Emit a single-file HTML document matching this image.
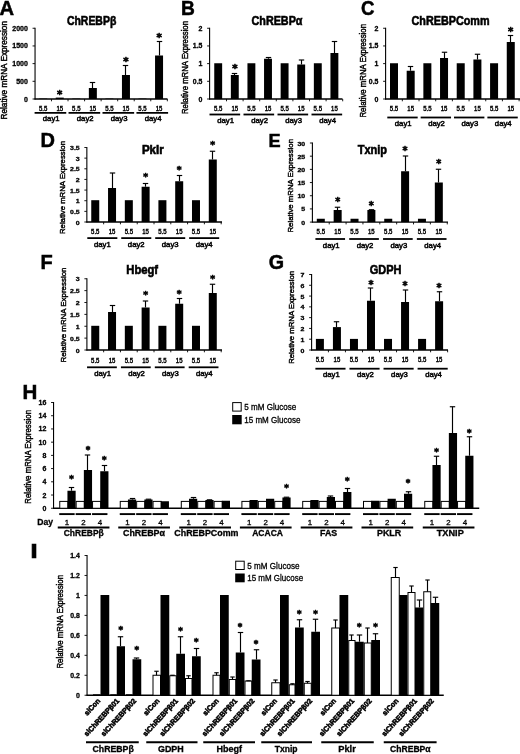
<!DOCTYPE html>
<html><head><meta charset="utf-8"><title>Figure</title>
<style>html,body{margin:0;padding:0;background:#fff}svg{display:block;filter:blur(0.35px)}text{font-family:'Liberation Sans',Arial,Helvetica,sans-serif;fill:#000;stroke:#000;stroke-width:0.3px}.lt{stroke-width:0.5px}.dl{stroke-width:0.5px}.rl{stroke-width:0.55px}.yl{stroke-width:0.42px}.xl{stroke-width:0.42px}.tt{stroke-width:0.6px}.st{font-family:'DejaVu Sans',sans-serif;stroke-width:0.65px;stroke-linejoin:round}</style>
</head><body>
<svg width="520" height="754" viewBox="0 0 520 754">
<rect width="520" height="754" fill="#fff"/>
<g id="panelA">
<text transform="translate(-0.40 14.90) scale(1.008 1.022)" font-size="20" font-weight="bold" class="lt">A</text>
<text x="91.60" y="25.00" font-size="13.2" font-weight="bold" text-anchor="middle" textLength="49.40" lengthAdjust="spacingAndGlyphs" class="tt">ChREBPβ</text>
<line x1="35.05" y1="27.75" x2="35.05" y2="99.50" stroke="#000" stroke-width="1.1"/>
<line x1="34.55" y1="99.00" x2="167.50" y2="99.00" stroke="#000" stroke-width="1.3"/>
<line x1="32.55" y1="99.00" x2="35.05" y2="99.00" stroke="#000" stroke-width="0.9"/>
<text x="23.95" y="101.55" font-size="7" font-weight="bold" textLength="3.90" lengthAdjust="spacingAndGlyphs">0</text>
<line x1="32.55" y1="81.31" x2="35.05" y2="81.31" stroke="#000" stroke-width="0.9"/>
<text x="16.15" y="83.86" font-size="7" font-weight="bold" textLength="11.70" lengthAdjust="spacingAndGlyphs">500</text>
<line x1="32.55" y1="63.62" x2="35.05" y2="63.62" stroke="#000" stroke-width="0.9"/>
<text x="12.25" y="66.17" font-size="7" font-weight="bold" textLength="15.60" lengthAdjust="spacingAndGlyphs">1000</text>
<line x1="32.55" y1="45.94" x2="35.05" y2="45.94" stroke="#000" stroke-width="0.9"/>
<text x="12.25" y="48.49" font-size="7" font-weight="bold" textLength="15.60" lengthAdjust="spacingAndGlyphs">1500</text>
<line x1="32.55" y1="28.25" x2="35.05" y2="28.25" stroke="#000" stroke-width="0.9"/>
<text x="12.25" y="30.80" font-size="7" font-weight="bold" textLength="15.60" lengthAdjust="spacingAndGlyphs">2000</text>
<line x1="51.48" y1="99.00" x2="51.48" y2="101.30" stroke="#000" stroke-width="0.9"/>
<line x1="68.03" y1="99.00" x2="68.03" y2="101.30" stroke="#000" stroke-width="0.9"/>
<line x1="84.58" y1="99.00" x2="84.58" y2="101.30" stroke="#000" stroke-width="0.9"/>
<line x1="101.12" y1="99.00" x2="101.12" y2="101.30" stroke="#000" stroke-width="0.9"/>
<line x1="117.68" y1="99.00" x2="117.68" y2="101.30" stroke="#000" stroke-width="0.9"/>
<line x1="134.23" y1="99.00" x2="134.23" y2="101.30" stroke="#000" stroke-width="0.9"/>
<line x1="150.78" y1="99.00" x2="150.78" y2="101.30" stroke="#000" stroke-width="0.9"/>
<line x1="167.33" y1="99.00" x2="167.33" y2="101.30" stroke="#000" stroke-width="0.9"/>
<rect x="39.20" y="98.60" width="8.00" height="0.40" fill="#000"/>
<text x="43.20" y="110.80" font-size="6.7" text-anchor="middle" textLength="8.40" lengthAdjust="spacingAndGlyphs" class="xl">5.5</text>
<rect x="55.75" y="97.60" width="8.00" height="1.40" fill="#000"/>
<text x="59.75" y="97.75" font-size="10.2" font-weight="bold" text-anchor="middle" class="st">*</text>
<text x="59.75" y="110.80" font-size="6.7" text-anchor="middle" textLength="6.70" lengthAdjust="spacingAndGlyphs" class="xl">15</text>
<rect x="72.30" y="98.60" width="8.00" height="0.40" fill="#000"/>
<text x="76.30" y="110.80" font-size="6.7" text-anchor="middle" textLength="8.40" lengthAdjust="spacingAndGlyphs" class="xl">5.5</text>
<rect x="88.85" y="88.00" width="8.00" height="11.00" fill="#000"/>
<line x1="92.50" y1="88.00" x2="92.50" y2="82.50" stroke="#000" stroke-width="1.15"/>
<line x1="89.80" y1="82.50" x2="95.20" y2="82.50" stroke="#000" stroke-width="1.15"/>
<text x="92.85" y="110.80" font-size="6.7" text-anchor="middle" textLength="6.70" lengthAdjust="spacingAndGlyphs" class="xl">15</text>
<rect x="105.40" y="98.60" width="8.00" height="0.40" fill="#000"/>
<text x="109.40" y="110.80" font-size="6.7" text-anchor="middle" textLength="8.40" lengthAdjust="spacingAndGlyphs" class="xl">5.5</text>
<rect x="121.95" y="75.00" width="8.00" height="24.00" fill="#000"/>
<line x1="125.50" y1="75.00" x2="125.50" y2="65.50" stroke="#000" stroke-width="1.15"/>
<line x1="122.80" y1="65.50" x2="128.20" y2="65.50" stroke="#000" stroke-width="1.15"/>
<text x="125.95" y="64.75" font-size="10.2" font-weight="bold" text-anchor="middle" class="st">*</text>
<text x="125.95" y="110.80" font-size="6.7" text-anchor="middle" textLength="6.70" lengthAdjust="spacingAndGlyphs" class="xl">15</text>
<rect x="138.50" y="98.60" width="8.00" height="0.40" fill="#000"/>
<text x="142.50" y="110.80" font-size="6.7" text-anchor="middle" textLength="8.40" lengthAdjust="spacingAndGlyphs" class="xl">5.5</text>
<rect x="155.05" y="55.50" width="8.00" height="43.50" fill="#000"/>
<line x1="159.50" y1="55.50" x2="159.50" y2="41.50" stroke="#000" stroke-width="1.15"/>
<line x1="156.80" y1="41.50" x2="162.20" y2="41.50" stroke="#000" stroke-width="1.15"/>
<text x="159.05" y="40.75" font-size="10.2" font-weight="bold" text-anchor="middle" class="st">*</text>
<text x="159.05" y="110.80" font-size="6.7" text-anchor="middle" textLength="6.70" lengthAdjust="spacingAndGlyphs" class="xl">15</text>
<line x1="34.60" y1="112.80" x2="66.25" y2="112.80" stroke="#000" stroke-width="1.8"/>
<text x="51.22" y="120.80" font-size="7.9" text-anchor="middle" textLength="16.80" lengthAdjust="spacingAndGlyphs" class="dl">day1</text>
<line x1="68.55" y1="112.80" x2="100.20" y2="112.80" stroke="#000" stroke-width="1.8"/>
<text x="85.17" y="120.80" font-size="7.9" text-anchor="middle" textLength="16.80" lengthAdjust="spacingAndGlyphs" class="dl">day2</text>
<line x1="102.50" y1="112.80" x2="134.15" y2="112.80" stroke="#000" stroke-width="1.8"/>
<text x="119.12" y="120.80" font-size="7.9" text-anchor="middle" textLength="16.80" lengthAdjust="spacingAndGlyphs" class="dl">day3</text>
<line x1="136.45" y1="112.80" x2="168.10" y2="112.80" stroke="#000" stroke-width="1.8"/>
<text x="153.08" y="120.80" font-size="7.9" text-anchor="middle" textLength="16.80" lengthAdjust="spacingAndGlyphs" class="dl">day4</text>
<text x="4.20" y="70.25" font-size="8.5" text-anchor="middle" textLength="98.50" lengthAdjust="spacingAndGlyphs" transform="rotate(-90 4.20 70.25)" dy="2.9" class="yl">Relative mRNA Expression</text>
</g>
<g id="panelB">
<text transform="translate(180.96 14.70) scale(0.959 1.007)" font-size="20" font-weight="bold" class="lt">B</text>
<text x="277.00" y="25.00" font-size="13.2" font-weight="bold" text-anchor="middle" textLength="51.00" lengthAdjust="spacingAndGlyphs" class="tt">ChREBPα</text>
<line x1="209.60" y1="27.75" x2="209.60" y2="99.50" stroke="#000" stroke-width="1.1"/>
<line x1="209.10" y1="99.00" x2="342.50" y2="99.00" stroke="#000" stroke-width="1.3"/>
<line x1="207.10" y1="99.00" x2="209.60" y2="99.00" stroke="#000" stroke-width="0.9"/>
<text x="198.50" y="101.55" font-size="7" font-weight="bold" textLength="3.90" lengthAdjust="spacingAndGlyphs">0</text>
<line x1="207.10" y1="81.31" x2="209.60" y2="81.31" stroke="#000" stroke-width="0.9"/>
<text x="192.80" y="83.86" font-size="7" font-weight="bold" textLength="9.60" lengthAdjust="spacingAndGlyphs">0.5</text>
<line x1="207.10" y1="63.62" x2="209.60" y2="63.62" stroke="#000" stroke-width="0.9"/>
<text x="198.50" y="66.17" font-size="7" font-weight="bold" textLength="3.90" lengthAdjust="spacingAndGlyphs">1</text>
<line x1="207.10" y1="45.94" x2="209.60" y2="45.94" stroke="#000" stroke-width="0.9"/>
<text x="192.80" y="48.49" font-size="7" font-weight="bold" textLength="9.60" lengthAdjust="spacingAndGlyphs">1.5</text>
<line x1="207.10" y1="28.25" x2="209.60" y2="28.25" stroke="#000" stroke-width="0.9"/>
<text x="198.50" y="30.80" font-size="7" font-weight="bold" textLength="3.90" lengthAdjust="spacingAndGlyphs">2</text>
<line x1="226.50" y1="99.00" x2="226.50" y2="101.30" stroke="#000" stroke-width="0.9"/>
<line x1="243.10" y1="99.00" x2="243.10" y2="101.30" stroke="#000" stroke-width="0.9"/>
<line x1="259.70" y1="99.00" x2="259.70" y2="101.30" stroke="#000" stroke-width="0.9"/>
<line x1="276.30" y1="99.00" x2="276.30" y2="101.30" stroke="#000" stroke-width="0.9"/>
<line x1="292.90" y1="99.00" x2="292.90" y2="101.30" stroke="#000" stroke-width="0.9"/>
<line x1="309.50" y1="99.00" x2="309.50" y2="101.30" stroke="#000" stroke-width="0.9"/>
<line x1="326.10" y1="99.00" x2="326.10" y2="101.30" stroke="#000" stroke-width="0.9"/>
<line x1="342.70" y1="99.00" x2="342.70" y2="101.30" stroke="#000" stroke-width="0.9"/>
<rect x="214.25" y="63.25" width="7.90" height="35.75" fill="#000"/>
<text x="218.20" y="110.90" font-size="6.7" text-anchor="middle" textLength="8.40" lengthAdjust="spacingAndGlyphs" class="xl">5.5</text>
<rect x="230.85" y="75.00" width="7.90" height="24.00" fill="#000"/>
<line x1="234.50" y1="75.00" x2="234.50" y2="73.50" stroke="#000" stroke-width="1.15"/>
<line x1="231.80" y1="73.50" x2="237.20" y2="73.50" stroke="#000" stroke-width="1.15"/>
<text x="234.80" y="71.55" font-size="10.2" font-weight="bold" text-anchor="middle" class="st">*</text>
<text x="234.80" y="110.90" font-size="6.7" text-anchor="middle" textLength="6.70" lengthAdjust="spacingAndGlyphs" class="xl">15</text>
<rect x="247.45" y="63.25" width="7.90" height="35.75" fill="#000"/>
<text x="251.40" y="110.90" font-size="6.7" text-anchor="middle" textLength="8.40" lengthAdjust="spacingAndGlyphs" class="xl">5.5</text>
<rect x="264.05" y="58.75" width="7.90" height="40.25" fill="#000"/>
<line x1="268.50" y1="58.75" x2="268.50" y2="57.50" stroke="#000" stroke-width="1.15"/>
<line x1="265.80" y1="57.50" x2="271.20" y2="57.50" stroke="#000" stroke-width="1.15"/>
<text x="268.00" y="110.90" font-size="6.7" text-anchor="middle" textLength="6.70" lengthAdjust="spacingAndGlyphs" class="xl">15</text>
<rect x="280.65" y="63.25" width="7.90" height="35.75" fill="#000"/>
<text x="284.60" y="110.90" font-size="6.7" text-anchor="middle" textLength="8.40" lengthAdjust="spacingAndGlyphs" class="xl">5.5</text>
<rect x="297.25" y="64.50" width="7.90" height="34.50" fill="#000"/>
<line x1="301.50" y1="64.50" x2="301.50" y2="60.00" stroke="#000" stroke-width="1.15"/>
<line x1="298.80" y1="60.00" x2="304.20" y2="60.00" stroke="#000" stroke-width="1.15"/>
<text x="301.20" y="110.90" font-size="6.7" text-anchor="middle" textLength="6.70" lengthAdjust="spacingAndGlyphs" class="xl">15</text>
<rect x="313.85" y="63.25" width="7.90" height="35.75" fill="#000"/>
<text x="317.80" y="110.90" font-size="6.7" text-anchor="middle" textLength="8.40" lengthAdjust="spacingAndGlyphs" class="xl">5.5</text>
<rect x="330.45" y="53.00" width="7.90" height="46.00" fill="#000"/>
<line x1="334.50" y1="53.00" x2="334.50" y2="41.50" stroke="#000" stroke-width="1.15"/>
<line x1="331.80" y1="41.50" x2="337.20" y2="41.50" stroke="#000" stroke-width="1.15"/>
<text x="334.40" y="110.90" font-size="6.7" text-anchor="middle" textLength="6.70" lengthAdjust="spacingAndGlyphs" class="xl">15</text>
<line x1="209.50" y1="114.50" x2="240.15" y2="114.50" stroke="#000" stroke-width="1.8"/>
<text x="225.62" y="123.40" font-size="7.9" text-anchor="middle" textLength="16.80" lengthAdjust="spacingAndGlyphs" class="dl">day1</text>
<line x1="243.50" y1="114.50" x2="274.15" y2="114.50" stroke="#000" stroke-width="1.8"/>
<text x="259.62" y="123.40" font-size="7.9" text-anchor="middle" textLength="16.80" lengthAdjust="spacingAndGlyphs" class="dl">day2</text>
<line x1="277.50" y1="114.50" x2="308.15" y2="114.50" stroke="#000" stroke-width="1.8"/>
<text x="293.62" y="123.40" font-size="7.9" text-anchor="middle" textLength="16.80" lengthAdjust="spacingAndGlyphs" class="dl">day3</text>
<line x1="311.50" y1="114.50" x2="342.15" y2="114.50" stroke="#000" stroke-width="1.8"/>
<text x="327.62" y="123.40" font-size="7.9" text-anchor="middle" textLength="16.80" lengthAdjust="spacingAndGlyphs" class="dl">day4</text>
<text x="185.30" y="67.50" font-size="8.5" text-anchor="middle" textLength="93.00" lengthAdjust="spacingAndGlyphs" transform="rotate(-90 185.30 67.50)" dy="2.9" class="yl">Relative mRNA Expression</text>
</g>
<g id="panelC">
<text transform="translate(360.96 14.51) scale(0.931 0.972)" font-size="20" font-weight="bold" class="lt">C</text>
<text x="450.50" y="25.00" font-size="13.2" font-weight="bold" text-anchor="middle" textLength="78.00" lengthAdjust="spacingAndGlyphs" class="tt">ChREBPComm</text>
<line x1="385.60" y1="27.75" x2="385.60" y2="99.50" stroke="#000" stroke-width="1.1"/>
<line x1="385.10" y1="99.00" x2="521.00" y2="99.00" stroke="#000" stroke-width="1.3"/>
<line x1="383.10" y1="99.00" x2="385.60" y2="99.00" stroke="#000" stroke-width="0.9"/>
<text x="374.50" y="101.55" font-size="7" font-weight="bold" textLength="3.90" lengthAdjust="spacingAndGlyphs">0</text>
<line x1="383.10" y1="81.31" x2="385.60" y2="81.31" stroke="#000" stroke-width="0.9"/>
<text x="368.80" y="83.86" font-size="7" font-weight="bold" textLength="9.60" lengthAdjust="spacingAndGlyphs">0.5</text>
<line x1="383.10" y1="63.62" x2="385.60" y2="63.62" stroke="#000" stroke-width="0.9"/>
<text x="374.50" y="66.17" font-size="7" font-weight="bold" textLength="3.90" lengthAdjust="spacingAndGlyphs">1</text>
<line x1="383.10" y1="45.94" x2="385.60" y2="45.94" stroke="#000" stroke-width="0.9"/>
<text x="368.80" y="48.49" font-size="7" font-weight="bold" textLength="9.60" lengthAdjust="spacingAndGlyphs">1.5</text>
<line x1="383.10" y1="28.25" x2="385.60" y2="28.25" stroke="#000" stroke-width="0.9"/>
<text x="374.50" y="30.80" font-size="7" font-weight="bold" textLength="3.90" lengthAdjust="spacingAndGlyphs">2</text>
<line x1="402.34" y1="99.00" x2="402.34" y2="101.30" stroke="#000" stroke-width="0.9"/>
<line x1="419.02" y1="99.00" x2="419.02" y2="101.30" stroke="#000" stroke-width="0.9"/>
<line x1="435.70" y1="99.00" x2="435.70" y2="101.30" stroke="#000" stroke-width="0.9"/>
<line x1="452.38" y1="99.00" x2="452.38" y2="101.30" stroke="#000" stroke-width="0.9"/>
<line x1="469.06" y1="99.00" x2="469.06" y2="101.30" stroke="#000" stroke-width="0.9"/>
<line x1="485.74" y1="99.00" x2="485.74" y2="101.30" stroke="#000" stroke-width="0.9"/>
<line x1="502.42" y1="99.00" x2="502.42" y2="101.30" stroke="#000" stroke-width="0.9"/>
<line x1="519.10" y1="99.00" x2="519.10" y2="101.30" stroke="#000" stroke-width="0.9"/>
<rect x="390.00" y="63.25" width="8.00" height="35.75" fill="#000"/>
<text x="394.00" y="111.00" font-size="6.7" text-anchor="middle" textLength="8.40" lengthAdjust="spacingAndGlyphs" class="xl">5.5</text>
<rect x="406.68" y="70.75" width="8.00" height="28.25" fill="#000"/>
<line x1="410.50" y1="70.75" x2="410.50" y2="66.50" stroke="#000" stroke-width="1.15"/>
<line x1="407.80" y1="66.50" x2="413.20" y2="66.50" stroke="#000" stroke-width="1.15"/>
<text x="410.68" y="111.00" font-size="6.7" text-anchor="middle" textLength="6.70" lengthAdjust="spacingAndGlyphs" class="xl">15</text>
<rect x="423.36" y="63.25" width="8.00" height="35.75" fill="#000"/>
<text x="427.36" y="111.00" font-size="6.7" text-anchor="middle" textLength="8.40" lengthAdjust="spacingAndGlyphs" class="xl">5.5</text>
<rect x="440.04" y="58.00" width="8.00" height="41.00" fill="#000"/>
<line x1="444.50" y1="58.00" x2="444.50" y2="52.25" stroke="#000" stroke-width="1.15"/>
<line x1="441.80" y1="52.25" x2="447.20" y2="52.25" stroke="#000" stroke-width="1.15"/>
<text x="444.04" y="111.00" font-size="6.7" text-anchor="middle" textLength="6.70" lengthAdjust="spacingAndGlyphs" class="xl">15</text>
<rect x="456.72" y="63.25" width="8.00" height="35.75" fill="#000"/>
<text x="460.72" y="111.00" font-size="6.7" text-anchor="middle" textLength="8.40" lengthAdjust="spacingAndGlyphs" class="xl">5.5</text>
<rect x="473.40" y="59.50" width="8.00" height="39.50" fill="#000"/>
<line x1="477.50" y1="59.50" x2="477.50" y2="54.25" stroke="#000" stroke-width="1.15"/>
<line x1="474.80" y1="54.25" x2="480.20" y2="54.25" stroke="#000" stroke-width="1.15"/>
<text x="477.40" y="111.00" font-size="6.7" text-anchor="middle" textLength="6.70" lengthAdjust="spacingAndGlyphs" class="xl">15</text>
<rect x="490.08" y="63.25" width="8.00" height="35.75" fill="#000"/>
<text x="494.08" y="111.00" font-size="6.7" text-anchor="middle" textLength="8.40" lengthAdjust="spacingAndGlyphs" class="xl">5.5</text>
<rect x="506.76" y="42.00" width="8.00" height="57.00" fill="#000"/>
<line x1="510.50" y1="42.00" x2="510.50" y2="35.50" stroke="#000" stroke-width="1.15"/>
<line x1="507.80" y1="35.50" x2="513.20" y2="35.50" stroke="#000" stroke-width="1.15"/>
<text x="510.76" y="35.25" font-size="10.2" font-weight="bold" text-anchor="middle" class="st">*</text>
<text x="510.76" y="111.00" font-size="6.7" text-anchor="middle" textLength="6.70" lengthAdjust="spacingAndGlyphs" class="xl">15</text>
<line x1="387.30" y1="117.50" x2="417.68" y2="117.50" stroke="#000" stroke-width="1.8"/>
<text x="403.19" y="126.10" font-size="7.9" text-anchor="middle" textLength="16.80" lengthAdjust="spacingAndGlyphs" class="dl">day1</text>
<line x1="420.66" y1="117.50" x2="451.04" y2="117.50" stroke="#000" stroke-width="1.8"/>
<text x="436.55" y="126.10" font-size="7.9" text-anchor="middle" textLength="16.80" lengthAdjust="spacingAndGlyphs" class="dl">day2</text>
<line x1="454.02" y1="117.50" x2="484.40" y2="117.50" stroke="#000" stroke-width="1.8"/>
<text x="469.91" y="126.10" font-size="7.9" text-anchor="middle" textLength="16.80" lengthAdjust="spacingAndGlyphs" class="dl">day3</text>
<line x1="487.38" y1="117.50" x2="517.76" y2="117.50" stroke="#000" stroke-width="1.8"/>
<text x="503.27" y="126.10" font-size="7.9" text-anchor="middle" textLength="16.80" lengthAdjust="spacingAndGlyphs" class="dl">day4</text>
<text x="363.50" y="70.75" font-size="8.5" text-anchor="middle" textLength="93.50" lengthAdjust="spacingAndGlyphs" transform="rotate(-90 363.50 70.75)" dy="2.9" class="yl">Relative mRNA Expression</text>
</g>
<g id="panelD">
<text transform="translate(40.60 146.90) scale(1.000 0.978)" font-size="20" font-weight="bold" class="lt">D</text>
<text x="152.80" y="154.20" font-size="12.2" font-weight="bold" text-anchor="middle" textLength="21.80" lengthAdjust="spacingAndGlyphs" class="tt">Pklr</text>
<line x1="86.85" y1="147.00" x2="86.85" y2="222.50" stroke="#000" stroke-width="1.1"/>
<line x1="86.35" y1="222.00" x2="222.00" y2="222.00" stroke="#000" stroke-width="1.3"/>
<line x1="84.35" y1="222.00" x2="86.85" y2="222.00" stroke="#000" stroke-width="0.9"/>
<text x="75.75" y="224.55" font-size="6.2" font-weight="bold" textLength="3.90" lengthAdjust="spacingAndGlyphs">0</text>
<line x1="84.35" y1="211.36" x2="86.85" y2="211.36" stroke="#000" stroke-width="0.9"/>
<text x="70.05" y="213.91" font-size="6.2" font-weight="bold" textLength="9.60" lengthAdjust="spacingAndGlyphs">0.5</text>
<line x1="84.35" y1="200.71" x2="86.85" y2="200.71" stroke="#000" stroke-width="0.9"/>
<text x="75.75" y="203.26" font-size="6.2" font-weight="bold" textLength="3.90" lengthAdjust="spacingAndGlyphs">1</text>
<line x1="84.35" y1="190.07" x2="86.85" y2="190.07" stroke="#000" stroke-width="0.9"/>
<text x="70.05" y="192.62" font-size="6.2" font-weight="bold" textLength="9.60" lengthAdjust="spacingAndGlyphs">1.5</text>
<line x1="84.35" y1="179.43" x2="86.85" y2="179.43" stroke="#000" stroke-width="0.9"/>
<text x="75.75" y="181.98" font-size="6.2" font-weight="bold" textLength="3.90" lengthAdjust="spacingAndGlyphs">2</text>
<line x1="84.35" y1="168.79" x2="86.85" y2="168.79" stroke="#000" stroke-width="0.9"/>
<text x="70.05" y="171.34" font-size="6.2" font-weight="bold" textLength="9.60" lengthAdjust="spacingAndGlyphs">2.5</text>
<line x1="84.35" y1="158.14" x2="86.85" y2="158.14" stroke="#000" stroke-width="0.9"/>
<text x="75.75" y="160.69" font-size="6.2" font-weight="bold" textLength="3.90" lengthAdjust="spacingAndGlyphs">3</text>
<line x1="84.35" y1="147.50" x2="86.85" y2="147.50" stroke="#000" stroke-width="0.9"/>
<text x="70.05" y="150.05" font-size="6.2" font-weight="bold" textLength="9.60" lengthAdjust="spacingAndGlyphs">3.5</text>
<line x1="103.65" y1="222.00" x2="103.65" y2="224.30" stroke="#000" stroke-width="0.9"/>
<line x1="120.44" y1="222.00" x2="120.44" y2="224.30" stroke="#000" stroke-width="0.9"/>
<line x1="137.22" y1="222.00" x2="137.22" y2="224.30" stroke="#000" stroke-width="0.9"/>
<line x1="154.01" y1="222.00" x2="154.01" y2="224.30" stroke="#000" stroke-width="0.9"/>
<line x1="170.81" y1="222.00" x2="170.81" y2="224.30" stroke="#000" stroke-width="0.9"/>
<line x1="187.59" y1="222.00" x2="187.59" y2="224.30" stroke="#000" stroke-width="0.9"/>
<line x1="204.38" y1="222.00" x2="204.38" y2="224.30" stroke="#000" stroke-width="0.9"/>
<line x1="221.18" y1="222.00" x2="221.18" y2="224.30" stroke="#000" stroke-width="0.9"/>
<rect x="91.25" y="200.20" width="8.00" height="21.80" fill="#000"/>
<text x="95.25" y="234.10" font-size="6.7" text-anchor="middle" textLength="8.40" lengthAdjust="spacingAndGlyphs" class="xl">5.5</text>
<rect x="108.04" y="188.00" width="8.00" height="34.00" fill="#000"/>
<line x1="112.50" y1="188.00" x2="112.50" y2="173.00" stroke="#000" stroke-width="1.15"/>
<line x1="109.80" y1="173.00" x2="115.20" y2="173.00" stroke="#000" stroke-width="1.15"/>
<text x="112.04" y="234.10" font-size="6.7" text-anchor="middle" textLength="6.70" lengthAdjust="spacingAndGlyphs" class="xl">15</text>
<rect x="124.83" y="200.20" width="8.00" height="21.80" fill="#000"/>
<text x="128.83" y="234.10" font-size="6.7" text-anchor="middle" textLength="8.40" lengthAdjust="spacingAndGlyphs" class="xl">5.5</text>
<rect x="141.62" y="186.75" width="8.00" height="35.25" fill="#000"/>
<line x1="145.50" y1="186.75" x2="145.50" y2="183.50" stroke="#000" stroke-width="1.15"/>
<line x1="142.80" y1="183.50" x2="148.20" y2="183.50" stroke="#000" stroke-width="1.15"/>
<text x="145.62" y="180.44" font-size="9.2" font-weight="bold" text-anchor="middle" class="st">*</text>
<text x="145.62" y="234.10" font-size="6.7" text-anchor="middle" textLength="6.70" lengthAdjust="spacingAndGlyphs" class="xl">15</text>
<rect x="158.41" y="200.20" width="8.00" height="21.80" fill="#000"/>
<text x="162.41" y="234.10" font-size="6.7" text-anchor="middle" textLength="8.40" lengthAdjust="spacingAndGlyphs" class="xl">5.5</text>
<rect x="175.20" y="181.25" width="8.00" height="40.75" fill="#000"/>
<line x1="179.50" y1="181.25" x2="179.50" y2="175.50" stroke="#000" stroke-width="1.15"/>
<line x1="176.80" y1="175.50" x2="182.20" y2="175.50" stroke="#000" stroke-width="1.15"/>
<text x="179.20" y="173.44" font-size="9.2" font-weight="bold" text-anchor="middle" class="st">*</text>
<text x="179.20" y="234.10" font-size="6.7" text-anchor="middle" textLength="6.70" lengthAdjust="spacingAndGlyphs" class="xl">15</text>
<rect x="191.99" y="200.20" width="8.00" height="21.80" fill="#000"/>
<text x="195.99" y="234.10" font-size="6.7" text-anchor="middle" textLength="8.40" lengthAdjust="spacingAndGlyphs" class="xl">5.5</text>
<rect x="208.78" y="159.50" width="8.00" height="62.50" fill="#000"/>
<line x1="212.50" y1="159.50" x2="212.50" y2="151.25" stroke="#000" stroke-width="1.15"/>
<line x1="209.80" y1="151.25" x2="215.20" y2="151.25" stroke="#000" stroke-width="1.15"/>
<text x="212.78" y="148.44" font-size="9.2" font-weight="bold" text-anchor="middle" class="st">*</text>
<text x="212.78" y="234.10" font-size="6.7" text-anchor="middle" textLength="6.70" lengthAdjust="spacingAndGlyphs" class="xl">15</text>
<line x1="87.30" y1="238.10" x2="117.34" y2="238.10" stroke="#000" stroke-width="1.8"/>
<text x="102.32" y="247.30" font-size="7.9" text-anchor="middle" textLength="16.80" lengthAdjust="spacingAndGlyphs" class="dl">day1</text>
<line x1="121.25" y1="238.10" x2="151.29" y2="238.10" stroke="#000" stroke-width="1.8"/>
<text x="136.27" y="247.30" font-size="7.9" text-anchor="middle" textLength="16.80" lengthAdjust="spacingAndGlyphs" class="dl">day2</text>
<line x1="155.20" y1="238.10" x2="185.24" y2="238.10" stroke="#000" stroke-width="1.8"/>
<text x="170.22" y="247.30" font-size="7.9" text-anchor="middle" textLength="16.80" lengthAdjust="spacingAndGlyphs" class="dl">day3</text>
<line x1="189.15" y1="238.10" x2="219.19" y2="238.10" stroke="#000" stroke-width="1.8"/>
<text x="204.17" y="247.30" font-size="7.9" text-anchor="middle" textLength="16.80" lengthAdjust="spacingAndGlyphs" class="dl">day4</text>
<text x="62.60" y="187.50" font-size="8.0" text-anchor="middle" textLength="93.00" lengthAdjust="spacingAndGlyphs" transform="rotate(-90 62.60 187.50)" dy="2.9" class="yl">Relative mRNA Expression</text>
</g>
<g id="panelE">
<text transform="translate(268.53 146.60) scale(0.911 0.957)" font-size="20" font-weight="bold" class="lt">E</text>
<text x="372.40" y="154.20" font-size="12.2" font-weight="bold" text-anchor="middle" textLength="29.40" lengthAdjust="spacingAndGlyphs" class="tt">Txnip</text>
<line x1="312.40" y1="142.50" x2="312.40" y2="222.60" stroke="#000" stroke-width="1.1"/>
<line x1="311.90" y1="222.10" x2="448.00" y2="222.10" stroke="#000" stroke-width="1.3"/>
<line x1="309.90" y1="222.10" x2="312.40" y2="222.10" stroke="#000" stroke-width="0.9"/>
<text x="301.30" y="224.65" font-size="6.2" font-weight="bold" textLength="3.90" lengthAdjust="spacingAndGlyphs">0</text>
<line x1="309.90" y1="208.92" x2="312.40" y2="208.92" stroke="#000" stroke-width="0.9"/>
<text x="301.30" y="211.47" font-size="6.2" font-weight="bold" textLength="3.90" lengthAdjust="spacingAndGlyphs">5</text>
<line x1="309.90" y1="195.73" x2="312.40" y2="195.73" stroke="#000" stroke-width="0.9"/>
<text x="297.40" y="198.28" font-size="6.2" font-weight="bold" textLength="7.80" lengthAdjust="spacingAndGlyphs">10</text>
<line x1="309.90" y1="182.55" x2="312.40" y2="182.55" stroke="#000" stroke-width="0.9"/>
<text x="297.40" y="185.10" font-size="6.2" font-weight="bold" textLength="7.80" lengthAdjust="spacingAndGlyphs">15</text>
<line x1="309.90" y1="169.37" x2="312.40" y2="169.37" stroke="#000" stroke-width="0.9"/>
<text x="297.40" y="171.92" font-size="6.2" font-weight="bold" textLength="7.80" lengthAdjust="spacingAndGlyphs">20</text>
<line x1="309.90" y1="156.18" x2="312.40" y2="156.18" stroke="#000" stroke-width="0.9"/>
<text x="297.40" y="158.73" font-size="6.2" font-weight="bold" textLength="7.80" lengthAdjust="spacingAndGlyphs">25</text>
<line x1="309.90" y1="143.00" x2="312.40" y2="143.00" stroke="#000" stroke-width="0.9"/>
<text x="297.40" y="145.55" font-size="6.2" font-weight="bold" textLength="7.80" lengthAdjust="spacingAndGlyphs">30</text>
<line x1="329.23" y1="222.10" x2="329.23" y2="224.40" stroke="#000" stroke-width="0.9"/>
<line x1="346.09" y1="222.10" x2="346.09" y2="224.40" stroke="#000" stroke-width="0.9"/>
<line x1="362.95" y1="222.10" x2="362.95" y2="224.40" stroke="#000" stroke-width="0.9"/>
<line x1="379.81" y1="222.10" x2="379.81" y2="224.40" stroke="#000" stroke-width="0.9"/>
<line x1="396.67" y1="222.10" x2="396.67" y2="224.40" stroke="#000" stroke-width="0.9"/>
<line x1="413.53" y1="222.10" x2="413.53" y2="224.40" stroke="#000" stroke-width="0.9"/>
<line x1="430.39" y1="222.10" x2="430.39" y2="224.40" stroke="#000" stroke-width="0.9"/>
<line x1="447.25" y1="222.10" x2="447.25" y2="224.40" stroke="#000" stroke-width="0.9"/>
<rect x="316.80" y="218.75" width="8.00" height="3.35" fill="#000"/>
<text x="320.80" y="234.10" font-size="6.7" text-anchor="middle" textLength="8.40" lengthAdjust="spacingAndGlyphs" class="xl">5.5</text>
<rect x="333.66" y="210.00" width="8.00" height="12.10" fill="#000"/>
<line x1="337.50" y1="210.00" x2="337.50" y2="207.25" stroke="#000" stroke-width="1.15"/>
<line x1="334.80" y1="207.25" x2="340.20" y2="207.25" stroke="#000" stroke-width="1.15"/>
<text x="337.66" y="205.24" font-size="9.6" font-weight="bold" text-anchor="middle" class="st">*</text>
<text x="337.66" y="234.10" font-size="6.7" text-anchor="middle" textLength="6.70" lengthAdjust="spacingAndGlyphs" class="xl">15</text>
<rect x="350.52" y="218.75" width="8.00" height="3.35" fill="#000"/>
<text x="354.52" y="234.10" font-size="6.7" text-anchor="middle" textLength="8.40" lengthAdjust="spacingAndGlyphs" class="xl">5.5</text>
<rect x="367.38" y="210.00" width="8.00" height="12.10" fill="#000"/>
<line x1="371.50" y1="210.00" x2="371.50" y2="209.70" stroke="#000" stroke-width="1.15"/>
<line x1="368.80" y1="209.70" x2="374.20" y2="209.70" stroke="#000" stroke-width="1.15"/>
<text x="371.38" y="209.44" font-size="9.6" font-weight="bold" text-anchor="middle" class="st">*</text>
<text x="371.38" y="234.10" font-size="6.7" text-anchor="middle" textLength="6.70" lengthAdjust="spacingAndGlyphs" class="xl">15</text>
<rect x="384.24" y="218.75" width="8.00" height="3.35" fill="#000"/>
<text x="388.24" y="234.10" font-size="6.7" text-anchor="middle" textLength="8.40" lengthAdjust="spacingAndGlyphs" class="xl">5.5</text>
<rect x="401.10" y="171.25" width="8.00" height="50.85" fill="#000"/>
<line x1="405.50" y1="171.25" x2="405.50" y2="156.00" stroke="#000" stroke-width="1.15"/>
<line x1="402.80" y1="156.00" x2="408.20" y2="156.00" stroke="#000" stroke-width="1.15"/>
<text x="405.10" y="153.69" font-size="9.6" font-weight="bold" text-anchor="middle" class="st">*</text>
<text x="405.10" y="234.10" font-size="6.7" text-anchor="middle" textLength="6.70" lengthAdjust="spacingAndGlyphs" class="xl">15</text>
<rect x="417.96" y="218.75" width="8.00" height="3.35" fill="#000"/>
<text x="421.96" y="234.10" font-size="6.7" text-anchor="middle" textLength="8.40" lengthAdjust="spacingAndGlyphs" class="xl">5.5</text>
<rect x="434.82" y="182.50" width="8.00" height="39.60" fill="#000"/>
<line x1="438.50" y1="182.50" x2="438.50" y2="169.25" stroke="#000" stroke-width="1.15"/>
<line x1="435.80" y1="169.25" x2="441.20" y2="169.25" stroke="#000" stroke-width="1.15"/>
<text x="438.82" y="166.94" font-size="9.6" font-weight="bold" text-anchor="middle" class="st">*</text>
<text x="438.82" y="234.10" font-size="6.7" text-anchor="middle" textLength="6.70" lengthAdjust="spacingAndGlyphs" class="xl">15</text>
<line x1="315.40" y1="239.00" x2="345.06" y2="239.00" stroke="#000" stroke-width="1.8"/>
<text x="331.23" y="248.00" font-size="7.9" text-anchor="middle" textLength="16.80" lengthAdjust="spacingAndGlyphs" class="dl">day1</text>
<line x1="349.22" y1="239.00" x2="378.88" y2="239.00" stroke="#000" stroke-width="1.8"/>
<text x="365.05" y="248.00" font-size="7.9" text-anchor="middle" textLength="16.80" lengthAdjust="spacingAndGlyphs" class="dl">day2</text>
<line x1="383.04" y1="239.00" x2="412.70" y2="239.00" stroke="#000" stroke-width="1.8"/>
<text x="398.87" y="248.00" font-size="7.9" text-anchor="middle" textLength="16.80" lengthAdjust="spacingAndGlyphs" class="dl">day3</text>
<line x1="416.86" y1="239.00" x2="446.52" y2="239.00" stroke="#000" stroke-width="1.8"/>
<text x="432.69" y="248.00" font-size="7.9" text-anchor="middle" textLength="16.80" lengthAdjust="spacingAndGlyphs" class="dl">day4</text>
<text x="290.00" y="185.75" font-size="8.0" text-anchor="middle" textLength="93.50" lengthAdjust="spacingAndGlyphs" transform="rotate(-90 290.00 185.75)" dy="2.9" class="yl">Relative mRNA Expression</text>
</g>
<g id="panelF">
<text transform="translate(40.50 268.50) scale(1.000 0.986)" font-size="20" font-weight="bold" class="lt">F</text>
<text x="142.20" y="274.20" font-size="12.2" font-weight="bold" text-anchor="middle" textLength="31.80" lengthAdjust="spacingAndGlyphs" class="tt">Hbegf</text>
<line x1="86.90" y1="278.25" x2="86.90" y2="350.50" stroke="#000" stroke-width="1.1"/>
<line x1="86.40" y1="350.00" x2="222.00" y2="350.00" stroke="#000" stroke-width="1.3"/>
<line x1="84.40" y1="350.00" x2="86.90" y2="350.00" stroke="#000" stroke-width="0.9"/>
<text x="75.80" y="352.55" font-size="6.2" font-weight="bold" textLength="3.90" lengthAdjust="spacingAndGlyphs">0</text>
<line x1="84.40" y1="338.12" x2="86.90" y2="338.12" stroke="#000" stroke-width="0.9"/>
<text x="70.10" y="340.68" font-size="6.2" font-weight="bold" textLength="9.60" lengthAdjust="spacingAndGlyphs">0.5</text>
<line x1="84.40" y1="326.25" x2="86.90" y2="326.25" stroke="#000" stroke-width="0.9"/>
<text x="75.80" y="328.80" font-size="6.2" font-weight="bold" textLength="3.90" lengthAdjust="spacingAndGlyphs">1</text>
<line x1="84.40" y1="314.38" x2="86.90" y2="314.38" stroke="#000" stroke-width="0.9"/>
<text x="70.10" y="316.93" font-size="6.2" font-weight="bold" textLength="9.60" lengthAdjust="spacingAndGlyphs">1.5</text>
<line x1="84.40" y1="302.50" x2="86.90" y2="302.50" stroke="#000" stroke-width="0.9"/>
<text x="75.80" y="305.05" font-size="6.2" font-weight="bold" textLength="3.90" lengthAdjust="spacingAndGlyphs">2</text>
<line x1="84.40" y1="290.62" x2="86.90" y2="290.62" stroke="#000" stroke-width="0.9"/>
<text x="70.10" y="293.18" font-size="6.2" font-weight="bold" textLength="9.60" lengthAdjust="spacingAndGlyphs">2.5</text>
<line x1="84.40" y1="278.75" x2="86.90" y2="278.75" stroke="#000" stroke-width="0.9"/>
<text x="75.80" y="281.30" font-size="6.2" font-weight="bold" textLength="3.90" lengthAdjust="spacingAndGlyphs">3</text>
<line x1="103.65" y1="350.00" x2="103.65" y2="352.30" stroke="#000" stroke-width="0.9"/>
<line x1="120.44" y1="350.00" x2="120.44" y2="352.30" stroke="#000" stroke-width="0.9"/>
<line x1="137.22" y1="350.00" x2="137.22" y2="352.30" stroke="#000" stroke-width="0.9"/>
<line x1="154.01" y1="350.00" x2="154.01" y2="352.30" stroke="#000" stroke-width="0.9"/>
<line x1="170.81" y1="350.00" x2="170.81" y2="352.30" stroke="#000" stroke-width="0.9"/>
<line x1="187.59" y1="350.00" x2="187.59" y2="352.30" stroke="#000" stroke-width="0.9"/>
<line x1="204.38" y1="350.00" x2="204.38" y2="352.30" stroke="#000" stroke-width="0.9"/>
<line x1="221.18" y1="350.00" x2="221.18" y2="352.30" stroke="#000" stroke-width="0.9"/>
<rect x="91.25" y="325.80" width="8.00" height="24.20" fill="#000"/>
<text x="95.25" y="362.50" font-size="6.7" text-anchor="middle" textLength="8.40" lengthAdjust="spacingAndGlyphs" class="xl">5.5</text>
<rect x="108.04" y="312.00" width="8.00" height="38.00" fill="#000"/>
<line x1="112.50" y1="312.00" x2="112.50" y2="305.50" stroke="#000" stroke-width="1.15"/>
<line x1="109.80" y1="305.50" x2="115.20" y2="305.50" stroke="#000" stroke-width="1.15"/>
<text x="112.04" y="362.50" font-size="6.7" text-anchor="middle" textLength="6.70" lengthAdjust="spacingAndGlyphs" class="xl">15</text>
<rect x="124.83" y="325.80" width="8.00" height="24.20" fill="#000"/>
<text x="128.83" y="362.50" font-size="6.7" text-anchor="middle" textLength="8.40" lengthAdjust="spacingAndGlyphs" class="xl">5.5</text>
<rect x="141.62" y="307.50" width="8.00" height="42.50" fill="#000"/>
<line x1="145.50" y1="307.50" x2="145.50" y2="301.00" stroke="#000" stroke-width="1.15"/>
<line x1="142.80" y1="301.00" x2="148.20" y2="301.00" stroke="#000" stroke-width="1.15"/>
<text x="145.62" y="298.24" font-size="9.2" font-weight="bold" text-anchor="middle" class="st">*</text>
<text x="145.62" y="362.50" font-size="6.7" text-anchor="middle" textLength="6.70" lengthAdjust="spacingAndGlyphs" class="xl">15</text>
<rect x="158.41" y="325.80" width="8.00" height="24.20" fill="#000"/>
<text x="162.41" y="362.50" font-size="6.7" text-anchor="middle" textLength="8.40" lengthAdjust="spacingAndGlyphs" class="xl">5.5</text>
<rect x="175.20" y="303.75" width="8.00" height="46.25" fill="#000"/>
<line x1="179.50" y1="303.75" x2="179.50" y2="298.50" stroke="#000" stroke-width="1.15"/>
<line x1="176.80" y1="298.50" x2="182.20" y2="298.50" stroke="#000" stroke-width="1.15"/>
<text x="179.20" y="297.24" font-size="9.2" font-weight="bold" text-anchor="middle" class="st">*</text>
<text x="179.20" y="362.50" font-size="6.7" text-anchor="middle" textLength="6.70" lengthAdjust="spacingAndGlyphs" class="xl">15</text>
<rect x="191.99" y="325.80" width="8.00" height="24.20" fill="#000"/>
<text x="195.99" y="362.50" font-size="6.7" text-anchor="middle" textLength="8.40" lengthAdjust="spacingAndGlyphs" class="xl">5.5</text>
<rect x="208.78" y="293.00" width="8.00" height="57.00" fill="#000"/>
<line x1="212.50" y1="293.00" x2="212.50" y2="284.25" stroke="#000" stroke-width="1.15"/>
<line x1="209.80" y1="284.25" x2="215.20" y2="284.25" stroke="#000" stroke-width="1.15"/>
<text x="212.78" y="282.04" font-size="9.2" font-weight="bold" text-anchor="middle" class="st">*</text>
<text x="212.78" y="362.50" font-size="6.7" text-anchor="middle" textLength="6.70" lengthAdjust="spacingAndGlyphs" class="xl">15</text>
<line x1="87.05" y1="367.30" x2="116.84" y2="367.30" stroke="#000" stroke-width="1.8"/>
<text x="102.64" y="375.80" font-size="7.9" text-anchor="middle" textLength="16.80" lengthAdjust="spacingAndGlyphs" class="dl">day1</text>
<line x1="120.93" y1="367.30" x2="150.72" y2="367.30" stroke="#000" stroke-width="1.8"/>
<text x="136.53" y="375.80" font-size="7.9" text-anchor="middle" textLength="16.80" lengthAdjust="spacingAndGlyphs" class="dl">day2</text>
<line x1="154.81" y1="367.30" x2="184.60" y2="367.30" stroke="#000" stroke-width="1.8"/>
<text x="170.40" y="375.80" font-size="7.9" text-anchor="middle" textLength="16.80" lengthAdjust="spacingAndGlyphs" class="dl">day3</text>
<line x1="188.69" y1="367.30" x2="218.48" y2="367.30" stroke="#000" stroke-width="1.8"/>
<text x="204.29" y="375.80" font-size="7.9" text-anchor="middle" textLength="16.80" lengthAdjust="spacingAndGlyphs" class="dl">day4</text>
<text x="63.00" y="315.00" font-size="8.0" text-anchor="middle" textLength="95.00" lengthAdjust="spacingAndGlyphs" transform="rotate(-90 63.00 315.00)" dy="2.9" class="yl">Relative mRNA Expression</text>
</g>
<g id="panelG">
<text transform="translate(268.81 268.80) scale(0.985 1.021)" font-size="20" font-weight="bold" class="lt">G</text>
<text x="385.65" y="274.20" font-size="12.2" font-weight="bold" text-anchor="middle" textLength="31.70" lengthAdjust="spacingAndGlyphs" class="tt">GDPH</text>
<line x1="311.60" y1="274.00" x2="311.60" y2="350.50" stroke="#000" stroke-width="1.1"/>
<line x1="311.10" y1="350.00" x2="448.00" y2="350.00" stroke="#000" stroke-width="1.3"/>
<line x1="309.10" y1="350.00" x2="311.60" y2="350.00" stroke="#000" stroke-width="0.9"/>
<text x="300.50" y="352.55" font-size="6.2" font-weight="bold" textLength="3.90" lengthAdjust="spacingAndGlyphs">0</text>
<line x1="309.10" y1="339.21" x2="311.60" y2="339.21" stroke="#000" stroke-width="0.9"/>
<text x="300.50" y="341.76" font-size="6.2" font-weight="bold" textLength="3.90" lengthAdjust="spacingAndGlyphs">1</text>
<line x1="309.10" y1="328.43" x2="311.60" y2="328.43" stroke="#000" stroke-width="0.9"/>
<text x="300.50" y="330.98" font-size="6.2" font-weight="bold" textLength="3.90" lengthAdjust="spacingAndGlyphs">2</text>
<line x1="309.10" y1="317.64" x2="311.60" y2="317.64" stroke="#000" stroke-width="0.9"/>
<text x="300.50" y="320.19" font-size="6.2" font-weight="bold" textLength="3.90" lengthAdjust="spacingAndGlyphs">3</text>
<line x1="309.10" y1="306.86" x2="311.60" y2="306.86" stroke="#000" stroke-width="0.9"/>
<text x="300.50" y="309.41" font-size="6.2" font-weight="bold" textLength="3.90" lengthAdjust="spacingAndGlyphs">4</text>
<line x1="309.10" y1="296.07" x2="311.60" y2="296.07" stroke="#000" stroke-width="0.9"/>
<text x="300.50" y="298.62" font-size="6.2" font-weight="bold" textLength="3.90" lengthAdjust="spacingAndGlyphs">5</text>
<line x1="309.10" y1="285.29" x2="311.60" y2="285.29" stroke="#000" stroke-width="0.9"/>
<text x="300.50" y="287.84" font-size="6.2" font-weight="bold" textLength="3.90" lengthAdjust="spacingAndGlyphs">6</text>
<line x1="309.10" y1="274.50" x2="311.60" y2="274.50" stroke="#000" stroke-width="0.9"/>
<text x="300.50" y="277.05" font-size="6.2" font-weight="bold" textLength="3.90" lengthAdjust="spacingAndGlyphs">7</text>
<line x1="328.41" y1="350.00" x2="328.41" y2="352.30" stroke="#000" stroke-width="0.9"/>
<line x1="345.44" y1="350.00" x2="345.44" y2="352.30" stroke="#000" stroke-width="0.9"/>
<line x1="362.48" y1="350.00" x2="362.48" y2="352.30" stroke="#000" stroke-width="0.9"/>
<line x1="379.50" y1="350.00" x2="379.50" y2="352.30" stroke="#000" stroke-width="0.9"/>
<line x1="396.53" y1="350.00" x2="396.53" y2="352.30" stroke="#000" stroke-width="0.9"/>
<line x1="413.56" y1="350.00" x2="413.56" y2="352.30" stroke="#000" stroke-width="0.9"/>
<line x1="430.60" y1="350.00" x2="430.60" y2="352.30" stroke="#000" stroke-width="0.9"/>
<line x1="447.62" y1="350.00" x2="447.62" y2="352.30" stroke="#000" stroke-width="0.9"/>
<rect x="315.90" y="338.90" width="8.00" height="11.10" fill="#000"/>
<text x="319.90" y="362.40" font-size="6.7" text-anchor="middle" textLength="8.40" lengthAdjust="spacingAndGlyphs" class="xl">5.5</text>
<rect x="332.93" y="327.10" width="8.00" height="22.90" fill="#000"/>
<line x1="336.50" y1="327.10" x2="336.50" y2="321.75" stroke="#000" stroke-width="1.15"/>
<line x1="333.80" y1="321.75" x2="339.20" y2="321.75" stroke="#000" stroke-width="1.15"/>
<text x="336.93" y="362.40" font-size="6.7" text-anchor="middle" textLength="6.70" lengthAdjust="spacingAndGlyphs" class="xl">15</text>
<rect x="349.96" y="338.90" width="8.00" height="11.10" fill="#000"/>
<text x="353.96" y="362.40" font-size="6.7" text-anchor="middle" textLength="8.40" lengthAdjust="spacingAndGlyphs" class="xl">5.5</text>
<rect x="366.99" y="300.75" width="8.00" height="49.25" fill="#000"/>
<line x1="370.50" y1="300.75" x2="370.50" y2="288.00" stroke="#000" stroke-width="1.15"/>
<line x1="367.80" y1="288.00" x2="373.20" y2="288.00" stroke="#000" stroke-width="1.15"/>
<text x="370.99" y="287.64" font-size="9.6" font-weight="bold" text-anchor="middle" class="st">*</text>
<text x="370.99" y="362.40" font-size="6.7" text-anchor="middle" textLength="6.70" lengthAdjust="spacingAndGlyphs" class="xl">15</text>
<rect x="384.02" y="338.90" width="8.00" height="11.10" fill="#000"/>
<text x="388.02" y="362.40" font-size="6.7" text-anchor="middle" textLength="8.40" lengthAdjust="spacingAndGlyphs" class="xl">5.5</text>
<rect x="401.05" y="302.00" width="8.00" height="48.00" fill="#000"/>
<line x1="405.50" y1="302.00" x2="405.50" y2="290.00" stroke="#000" stroke-width="1.15"/>
<line x1="402.80" y1="290.00" x2="408.20" y2="290.00" stroke="#000" stroke-width="1.15"/>
<text x="405.05" y="289.44" font-size="9.6" font-weight="bold" text-anchor="middle" class="st">*</text>
<text x="405.05" y="362.40" font-size="6.7" text-anchor="middle" textLength="6.70" lengthAdjust="spacingAndGlyphs" class="xl">15</text>
<rect x="418.08" y="338.90" width="8.00" height="11.10" fill="#000"/>
<text x="422.08" y="362.40" font-size="6.7" text-anchor="middle" textLength="8.40" lengthAdjust="spacingAndGlyphs" class="xl">5.5</text>
<rect x="435.11" y="301.25" width="8.00" height="48.75" fill="#000"/>
<line x1="439.50" y1="301.25" x2="439.50" y2="291.75" stroke="#000" stroke-width="1.15"/>
<line x1="436.80" y1="291.75" x2="442.20" y2="291.75" stroke="#000" stroke-width="1.15"/>
<text x="439.11" y="290.69" font-size="9.6" font-weight="bold" text-anchor="middle" class="st">*</text>
<text x="439.11" y="362.40" font-size="6.7" text-anchor="middle" textLength="6.70" lengthAdjust="spacingAndGlyphs" class="xl">15</text>
<line x1="315.40" y1="368.70" x2="345.53" y2="368.70" stroke="#000" stroke-width="1.8"/>
<text x="331.36" y="377.20" font-size="7.9" text-anchor="middle" textLength="16.80" lengthAdjust="spacingAndGlyphs" class="dl">day1</text>
<line x1="349.46" y1="368.70" x2="379.59" y2="368.70" stroke="#000" stroke-width="1.8"/>
<text x="365.42" y="377.20" font-size="7.9" text-anchor="middle" textLength="16.80" lengthAdjust="spacingAndGlyphs" class="dl">day2</text>
<line x1="383.52" y1="368.70" x2="413.65" y2="368.70" stroke="#000" stroke-width="1.8"/>
<text x="399.48" y="377.20" font-size="7.9" text-anchor="middle" textLength="16.80" lengthAdjust="spacingAndGlyphs" class="dl">day3</text>
<line x1="417.58" y1="368.70" x2="447.71" y2="368.70" stroke="#000" stroke-width="1.8"/>
<text x="433.54" y="377.20" font-size="7.9" text-anchor="middle" textLength="16.80" lengthAdjust="spacingAndGlyphs" class="dl">day4</text>
<text x="291.30" y="317.38" font-size="8.0" text-anchor="middle" textLength="92.75" lengthAdjust="spacingAndGlyphs" transform="rotate(-90 291.30 317.38)" dy="2.9" class="yl">Relative mRNA Expression</text>
</g>
<g id="panelH">
<text transform="translate(22.46 399.00) scale(1.026 0.993)" font-size="20" font-weight="bold" class="lt">H</text>
<line x1="53.55" y1="402.00" x2="53.55" y2="508.75" stroke="#000" stroke-width="1.1"/>
<line x1="53.05" y1="508.25" x2="479.25" y2="508.25" stroke="#000" stroke-width="1.5"/>
<line x1="51.05" y1="508.25" x2="53.55" y2="508.25" stroke="#000" stroke-width="0.9"/>
<text x="42.45" y="510.80" font-size="7" font-weight="bold" textLength="3.90" lengthAdjust="spacingAndGlyphs">0</text>
<line x1="51.05" y1="495.03" x2="53.55" y2="495.03" stroke="#000" stroke-width="0.9"/>
<text x="42.45" y="497.58" font-size="7" font-weight="bold" textLength="3.90" lengthAdjust="spacingAndGlyphs">2</text>
<line x1="51.05" y1="481.81" x2="53.55" y2="481.81" stroke="#000" stroke-width="0.9"/>
<text x="42.45" y="484.36" font-size="7" font-weight="bold" textLength="3.90" lengthAdjust="spacingAndGlyphs">4</text>
<line x1="51.05" y1="468.59" x2="53.55" y2="468.59" stroke="#000" stroke-width="0.9"/>
<text x="42.45" y="471.14" font-size="7" font-weight="bold" textLength="3.90" lengthAdjust="spacingAndGlyphs">6</text>
<line x1="51.05" y1="455.38" x2="53.55" y2="455.38" stroke="#000" stroke-width="0.9"/>
<text x="42.45" y="457.93" font-size="7" font-weight="bold" textLength="3.90" lengthAdjust="spacingAndGlyphs">8</text>
<line x1="51.05" y1="442.16" x2="53.55" y2="442.16" stroke="#000" stroke-width="0.9"/>
<text x="38.55" y="444.71" font-size="7" font-weight="bold" textLength="7.80" lengthAdjust="spacingAndGlyphs">10</text>
<line x1="51.05" y1="428.94" x2="53.55" y2="428.94" stroke="#000" stroke-width="0.9"/>
<text x="38.55" y="431.49" font-size="7" font-weight="bold" textLength="7.80" lengthAdjust="spacingAndGlyphs">12</text>
<line x1="51.05" y1="415.72" x2="53.55" y2="415.72" stroke="#000" stroke-width="0.9"/>
<text x="38.55" y="418.27" font-size="7" font-weight="bold" textLength="7.80" lengthAdjust="spacingAndGlyphs">14</text>
<line x1="51.05" y1="402.50" x2="53.55" y2="402.50" stroke="#000" stroke-width="0.9"/>
<text x="38.55" y="405.05" font-size="7" font-weight="bold" textLength="7.80" lengthAdjust="spacingAndGlyphs">16</text>
<text x="28" y="456.875" font-size="8.5" text-anchor="middle" textLength="93.75" lengthAdjust="spacingAndGlyphs" transform="rotate(-90 28 456.875)" dy="2.9" class="yl">Relative mRNA Expression</text>
<rect x="59.75" y="501.40" width="8.20" height="6.85" fill="#fff" stroke="#000" stroke-width="1"/>
<rect x="67.45" y="490.75" width="8.20" height="17.50" fill="#000"/>
<line x1="71.50" y1="490.75" x2="71.50" y2="487.50" stroke="#000" stroke-width="1.15"/>
<line x1="68.80" y1="487.50" x2="74.20" y2="487.50" stroke="#000" stroke-width="1.15"/>
<text x="71.55" y="481.78" font-size="8.7" font-weight="bold" text-anchor="middle" class="st">*</text>
<line x1="59.25" y1="514.10" x2="74.65" y2="514.10" stroke="#000" stroke-width="1.9"/>
<text x="67.05" y="525.00" font-size="7.9" text-anchor="middle">1</text>
<rect x="76.15" y="501.40" width="8.20" height="6.85" fill="#fff" stroke="#000" stroke-width="1"/>
<rect x="83.85" y="470.00" width="8.20" height="38.25" fill="#000"/>
<line x1="87.50" y1="470.00" x2="87.50" y2="455.00" stroke="#000" stroke-width="1.15"/>
<line x1="84.80" y1="455.00" x2="90.20" y2="455.00" stroke="#000" stroke-width="1.15"/>
<text x="87.95" y="452.83" font-size="8.7" font-weight="bold" text-anchor="middle" class="st">*</text>
<line x1="75.65" y1="514.10" x2="91.05" y2="514.10" stroke="#000" stroke-width="1.9"/>
<text x="83.45" y="525.00" font-size="7.9" text-anchor="middle">2</text>
<rect x="92.55" y="501.40" width="8.20" height="6.85" fill="#fff" stroke="#000" stroke-width="1"/>
<rect x="100.25" y="471.25" width="8.20" height="37.00" fill="#000"/>
<line x1="104.50" y1="471.25" x2="104.50" y2="465.50" stroke="#000" stroke-width="1.15"/>
<line x1="101.80" y1="465.50" x2="107.20" y2="465.50" stroke="#000" stroke-width="1.15"/>
<text x="104.35" y="463.08" font-size="8.7" font-weight="bold" text-anchor="middle" class="st">*</text>
<line x1="92.05" y1="514.10" x2="107.45" y2="514.10" stroke="#000" stroke-width="1.9"/>
<text x="99.85" y="525.00" font-size="7.9" text-anchor="middle">4</text>
<line x1="57.75" y1="527.50" x2="109.45" y2="527.50" stroke="#000" stroke-width="1.9"/>
<text x="83.75" y="536.30" font-size="8.7" font-weight="bold" text-anchor="middle" textLength="40.00" lengthAdjust="spacingAndGlyphs">ChREBPβ</text>
<rect x="120.25" y="501.40" width="8.20" height="6.85" fill="#fff" stroke="#000" stroke-width="1"/>
<rect x="127.95" y="499.50" width="8.20" height="8.75" fill="#000"/>
<line x1="132.50" y1="499.50" x2="132.50" y2="498.50" stroke="#000" stroke-width="1.15"/>
<line x1="129.80" y1="498.50" x2="135.20" y2="498.50" stroke="#000" stroke-width="1.15"/>
<line x1="119.75" y1="514.10" x2="135.15" y2="514.10" stroke="#000" stroke-width="1.9"/>
<text x="127.55" y="525.00" font-size="7.9" text-anchor="middle">1</text>
<rect x="136.65" y="501.40" width="8.20" height="6.85" fill="#fff" stroke="#000" stroke-width="1"/>
<rect x="144.35" y="499.50" width="8.20" height="8.75" fill="#000"/>
<line x1="148.50" y1="499.50" x2="148.50" y2="499.20" stroke="#000" stroke-width="1.15"/>
<line x1="145.80" y1="499.20" x2="151.20" y2="499.20" stroke="#000" stroke-width="1.15"/>
<line x1="136.15" y1="514.10" x2="151.55" y2="514.10" stroke="#000" stroke-width="1.9"/>
<text x="143.95" y="525.00" font-size="7.9" text-anchor="middle">2</text>
<rect x="153.05" y="501.40" width="8.20" height="6.85" fill="#fff" stroke="#000" stroke-width="1"/>
<rect x="160.75" y="501.25" width="8.20" height="7.00" fill="#000"/>
<line x1="152.55" y1="514.10" x2="167.95" y2="514.10" stroke="#000" stroke-width="1.9"/>
<text x="160.35" y="525.00" font-size="7.9" text-anchor="middle">4</text>
<line x1="118.25" y1="527.50" x2="169.95" y2="527.50" stroke="#000" stroke-width="1.9"/>
<text x="144.00" y="536.30" font-size="8.7" font-weight="bold" text-anchor="middle" textLength="42.00" lengthAdjust="spacingAndGlyphs">ChREBPα</text>
<rect x="181.30" y="501.40" width="8.20" height="6.85" fill="#fff" stroke="#000" stroke-width="1"/>
<rect x="189.00" y="498.75" width="8.20" height="9.50" fill="#000"/>
<line x1="193.50" y1="498.75" x2="193.50" y2="497.50" stroke="#000" stroke-width="1.15"/>
<line x1="190.80" y1="497.50" x2="196.20" y2="497.50" stroke="#000" stroke-width="1.15"/>
<line x1="180.80" y1="514.10" x2="196.20" y2="514.10" stroke="#000" stroke-width="1.9"/>
<text x="188.60" y="525.00" font-size="7.9" text-anchor="middle">1</text>
<rect x="197.70" y="501.40" width="8.20" height="6.85" fill="#fff" stroke="#000" stroke-width="1"/>
<rect x="205.40" y="500.00" width="8.20" height="8.25" fill="#000"/>
<line x1="209.50" y1="500.00" x2="209.50" y2="499.80" stroke="#000" stroke-width="1.15"/>
<line x1="206.80" y1="499.80" x2="212.20" y2="499.80" stroke="#000" stroke-width="1.15"/>
<line x1="197.20" y1="514.10" x2="212.60" y2="514.10" stroke="#000" stroke-width="1.9"/>
<text x="205.00" y="525.00" font-size="7.9" text-anchor="middle">2</text>
<rect x="214.10" y="501.40" width="8.20" height="6.85" fill="#fff" stroke="#000" stroke-width="1"/>
<rect x="221.80" y="500.75" width="8.20" height="7.50" fill="#000"/>
<line x1="213.60" y1="514.10" x2="229.00" y2="514.10" stroke="#000" stroke-width="1.9"/>
<text x="221.40" y="525.00" font-size="7.9" text-anchor="middle">4</text>
<line x1="179.30" y1="527.50" x2="231.00" y2="527.50" stroke="#000" stroke-width="1.9"/>
<text x="206.40" y="536.30" font-size="8.7" font-weight="bold" text-anchor="middle" textLength="64.20" lengthAdjust="spacingAndGlyphs">ChREBPComm</text>
<rect x="241.90" y="501.40" width="8.20" height="6.85" fill="#fff" stroke="#000" stroke-width="1"/>
<rect x="249.60" y="500.00" width="8.20" height="8.25" fill="#000"/>
<line x1="241.40" y1="514.10" x2="256.80" y2="514.10" stroke="#000" stroke-width="1.9"/>
<text x="249.20" y="525.00" font-size="7.9" text-anchor="middle">1</text>
<rect x="258.30" y="501.40" width="8.20" height="6.85" fill="#fff" stroke="#000" stroke-width="1"/>
<rect x="266.00" y="498.75" width="8.20" height="9.50" fill="#000"/>
<line x1="257.80" y1="514.10" x2="273.20" y2="514.10" stroke="#000" stroke-width="1.9"/>
<text x="265.60" y="525.00" font-size="7.9" text-anchor="middle">2</text>
<rect x="274.70" y="501.40" width="8.20" height="6.85" fill="#fff" stroke="#000" stroke-width="1"/>
<rect x="282.40" y="497.50" width="8.20" height="10.75" fill="#000"/>
<line x1="286.50" y1="497.50" x2="286.50" y2="497.20" stroke="#000" stroke-width="1.15"/>
<line x1="283.80" y1="497.20" x2="289.20" y2="497.20" stroke="#000" stroke-width="1.15"/>
<text x="286.50" y="491.38" font-size="8.7" font-weight="bold" text-anchor="middle" class="st">*</text>
<line x1="274.20" y1="514.10" x2="289.60" y2="514.10" stroke="#000" stroke-width="1.9"/>
<text x="282.00" y="525.00" font-size="7.9" text-anchor="middle">4</text>
<line x1="239.90" y1="527.50" x2="291.60" y2="527.50" stroke="#000" stroke-width="1.9"/>
<text x="267.60" y="536.30" font-size="8.7" font-weight="bold" text-anchor="middle" textLength="30.80" lengthAdjust="spacingAndGlyphs">ACACA</text>
<rect x="302.70" y="501.40" width="8.20" height="6.85" fill="#fff" stroke="#000" stroke-width="1"/>
<rect x="310.40" y="500.00" width="8.20" height="8.25" fill="#000"/>
<line x1="302.20" y1="514.10" x2="317.60" y2="514.10" stroke="#000" stroke-width="1.9"/>
<text x="310.00" y="525.00" font-size="7.9" text-anchor="middle">1</text>
<rect x="319.10" y="501.40" width="8.20" height="6.85" fill="#fff" stroke="#000" stroke-width="1"/>
<rect x="326.80" y="497.00" width="8.20" height="11.25" fill="#000"/>
<line x1="330.50" y1="497.00" x2="330.50" y2="496.00" stroke="#000" stroke-width="1.15"/>
<line x1="327.80" y1="496.00" x2="333.20" y2="496.00" stroke="#000" stroke-width="1.15"/>
<line x1="318.60" y1="514.10" x2="334.00" y2="514.10" stroke="#000" stroke-width="1.9"/>
<text x="326.40" y="525.00" font-size="7.9" text-anchor="middle">2</text>
<rect x="335.50" y="501.40" width="8.20" height="6.85" fill="#fff" stroke="#000" stroke-width="1"/>
<rect x="343.20" y="492.00" width="8.20" height="16.25" fill="#000"/>
<line x1="347.50" y1="492.00" x2="347.50" y2="488.50" stroke="#000" stroke-width="1.15"/>
<line x1="344.80" y1="488.50" x2="350.20" y2="488.50" stroke="#000" stroke-width="1.15"/>
<text x="347.30" y="484.08" font-size="8.7" font-weight="bold" text-anchor="middle" class="st">*</text>
<line x1="335.00" y1="514.10" x2="350.40" y2="514.10" stroke="#000" stroke-width="1.9"/>
<text x="342.80" y="525.00" font-size="7.9" text-anchor="middle">4</text>
<line x1="300.70" y1="527.50" x2="352.40" y2="527.50" stroke="#000" stroke-width="1.9"/>
<text x="328.60" y="536.30" font-size="8.7" font-weight="bold" text-anchor="middle" textLength="17.20" lengthAdjust="spacingAndGlyphs">FAS</text>
<rect x="363.50" y="501.40" width="8.20" height="6.85" fill="#fff" stroke="#000" stroke-width="1"/>
<rect x="371.20" y="500.75" width="8.20" height="7.50" fill="#000"/>
<line x1="363.00" y1="514.10" x2="378.40" y2="514.10" stroke="#000" stroke-width="1.9"/>
<text x="370.80" y="525.00" font-size="7.9" text-anchor="middle">1</text>
<rect x="379.90" y="501.40" width="8.20" height="6.85" fill="#fff" stroke="#000" stroke-width="1"/>
<rect x="387.60" y="498.75" width="8.20" height="9.50" fill="#000"/>
<line x1="379.40" y1="514.10" x2="394.80" y2="514.10" stroke="#000" stroke-width="1.9"/>
<text x="387.20" y="525.00" font-size="7.9" text-anchor="middle">2</text>
<rect x="396.30" y="501.40" width="8.20" height="6.85" fill="#fff" stroke="#000" stroke-width="1"/>
<rect x="404.00" y="493.75" width="8.20" height="14.50" fill="#000"/>
<line x1="408.50" y1="493.75" x2="408.50" y2="491.75" stroke="#000" stroke-width="1.15"/>
<line x1="405.80" y1="491.75" x2="411.20" y2="491.75" stroke="#000" stroke-width="1.15"/>
<text x="408.10" y="485.83" font-size="8.7" font-weight="bold" text-anchor="middle" class="st">*</text>
<line x1="395.80" y1="514.10" x2="411.20" y2="514.10" stroke="#000" stroke-width="1.9"/>
<text x="403.60" y="525.00" font-size="7.9" text-anchor="middle">4</text>
<line x1="361.50" y1="527.50" x2="413.20" y2="527.50" stroke="#000" stroke-width="1.9"/>
<text x="389.12" y="536.30" font-size="8.7" font-weight="bold" text-anchor="middle" textLength="24.25" lengthAdjust="spacingAndGlyphs">PKLR</text>
<rect x="424.75" y="501.40" width="8.20" height="6.85" fill="#fff" stroke="#000" stroke-width="1"/>
<rect x="432.45" y="465.00" width="8.20" height="43.25" fill="#000"/>
<line x1="436.50" y1="465.00" x2="436.50" y2="456.25" stroke="#000" stroke-width="1.15"/>
<line x1="433.80" y1="456.25" x2="439.20" y2="456.25" stroke="#000" stroke-width="1.15"/>
<text x="436.55" y="454.58" font-size="8.7" font-weight="bold" text-anchor="middle" class="st">*</text>
<line x1="424.25" y1="514.10" x2="439.65" y2="514.10" stroke="#000" stroke-width="1.9"/>
<text x="432.05" y="525.00" font-size="7.9" text-anchor="middle">1</text>
<rect x="441.15" y="501.40" width="8.20" height="6.85" fill="#fff" stroke="#000" stroke-width="1"/>
<rect x="448.85" y="433.00" width="8.20" height="75.25" fill="#000"/>
<line x1="452.50" y1="433.00" x2="452.50" y2="406.75" stroke="#000" stroke-width="1.15"/>
<line x1="449.80" y1="406.75" x2="455.20" y2="406.75" stroke="#000" stroke-width="1.15"/>
<line x1="440.65" y1="514.10" x2="456.05" y2="514.10" stroke="#000" stroke-width="1.9"/>
<text x="448.45" y="525.00" font-size="7.9" text-anchor="middle">2</text>
<rect x="457.55" y="501.40" width="8.20" height="6.85" fill="#fff" stroke="#000" stroke-width="1"/>
<rect x="465.25" y="455.75" width="8.20" height="52.50" fill="#000"/>
<line x1="469.50" y1="455.75" x2="469.50" y2="436.75" stroke="#000" stroke-width="1.15"/>
<line x1="466.80" y1="436.75" x2="472.20" y2="436.75" stroke="#000" stroke-width="1.15"/>
<text x="469.35" y="435.83" font-size="8.7" font-weight="bold" text-anchor="middle" class="st">*</text>
<line x1="457.05" y1="514.10" x2="472.45" y2="514.10" stroke="#000" stroke-width="1.9"/>
<text x="464.85" y="525.00" font-size="7.9" text-anchor="middle">4</text>
<line x1="422.75" y1="527.50" x2="474.45" y2="527.50" stroke="#000" stroke-width="1.9"/>
<text x="450.25" y="536.30" font-size="8.7" font-weight="bold" text-anchor="middle" textLength="27.00" lengthAdjust="spacingAndGlyphs">TXNIP</text>
<text x="37.20" y="524.80" font-size="9.3" font-weight="bold" textLength="15.80" lengthAdjust="spacingAndGlyphs">Day</text>
<rect x="232.70" y="402.60" width="8.50" height="8.50" fill="#fff" stroke="#000" stroke-width="1"/>
<rect x="232.20" y="415.00" width="9.50" height="9.30" fill="#000"/>
<text x="244.25" y="410.40" font-size="9" textLength="52.00" lengthAdjust="spacingAndGlyphs">5 mM Glucose</text>
<text x="244.25" y="422.70" font-size="9" textLength="56.25" lengthAdjust="spacingAndGlyphs">15 mM Glucose</text>
</g>
<g id="panelI">
<text transform="translate(30.20 557.60) scale(1.357 0.986)" font-size="20" font-weight="bold" class="lt">I</text>
<line x1="87.05" y1="555.00" x2="87.05" y2="695.75" stroke="#000" stroke-width="1.1"/>
<line x1="86.55" y1="695.25" x2="443.75" y2="695.25" stroke="#000" stroke-width="1.5"/>
<line x1="84.55" y1="695.25" x2="87.05" y2="695.25" stroke="#000" stroke-width="0.9"/>
<text x="75.95" y="697.80" font-size="7" font-weight="bold" textLength="3.90" lengthAdjust="spacingAndGlyphs">0</text>
<line x1="84.55" y1="675.29" x2="87.05" y2="675.29" stroke="#000" stroke-width="0.9"/>
<text x="70.25" y="677.84" font-size="7" font-weight="bold" textLength="9.60" lengthAdjust="spacingAndGlyphs">0.2</text>
<line x1="84.55" y1="655.32" x2="87.05" y2="655.32" stroke="#000" stroke-width="0.9"/>
<text x="70.25" y="657.87" font-size="7" font-weight="bold" textLength="9.60" lengthAdjust="spacingAndGlyphs">0.4</text>
<line x1="84.55" y1="635.36" x2="87.05" y2="635.36" stroke="#000" stroke-width="0.9"/>
<text x="70.25" y="637.91" font-size="7" font-weight="bold" textLength="9.60" lengthAdjust="spacingAndGlyphs">0.6</text>
<line x1="84.55" y1="615.39" x2="87.05" y2="615.39" stroke="#000" stroke-width="0.9"/>
<text x="70.25" y="617.94" font-size="7" font-weight="bold" textLength="9.60" lengthAdjust="spacingAndGlyphs">0.8</text>
<line x1="84.55" y1="595.43" x2="87.05" y2="595.43" stroke="#000" stroke-width="0.9"/>
<text x="75.95" y="597.98" font-size="7" font-weight="bold" textLength="3.90" lengthAdjust="spacingAndGlyphs">1</text>
<line x1="84.55" y1="575.46" x2="87.05" y2="575.46" stroke="#000" stroke-width="0.9"/>
<text x="70.25" y="578.01" font-size="7" font-weight="bold" textLength="9.60" lengthAdjust="spacingAndGlyphs">1.2</text>
<line x1="84.55" y1="555.50" x2="87.05" y2="555.50" stroke="#000" stroke-width="0.9"/>
<text x="70.25" y="558.05" font-size="7" font-weight="bold" textLength="9.60" lengthAdjust="spacingAndGlyphs">1.4</text>
<text x="60" y="621.75" font-size="8.5" text-anchor="middle" textLength="93.5" lengthAdjust="spacingAndGlyphs" transform="rotate(-90 60 621.75)" dy="2.9" class="yl">Relative mRNA Expression</text>
<line x1="93.00" y1="694.60" x2="100.50" y2="694.60" stroke="#000" stroke-width="0.8"/>
<rect x="100.50" y="595.00" width="8.75" height="100.25" fill="#000"/>
<text x="100.80" y="701.20" font-size="7.25" font-weight="bold" text-anchor="end" class="rl" transform="rotate(-47.5 100.80 701.20)">siCon</text>
<line x1="110.25" y1="694.60" x2="116.75" y2="694.60" stroke="#000" stroke-width="0.8"/>
<rect x="116.75" y="646.25" width="8.25" height="49.00" fill="#000"/>
<line x1="120.50" y1="646.25" x2="120.50" y2="636.75" stroke="#000" stroke-width="1.15"/>
<line x1="117.80" y1="636.75" x2="123.20" y2="636.75" stroke="#000" stroke-width="1.15"/>
<text x="120.88" y="633.18" font-size="8.7" font-weight="bold" text-anchor="middle" class="st">*</text>
<text x="119.75" y="701.20" font-size="7.25" font-weight="bold" text-anchor="end" class="rl" transform="rotate(-47.5 119.75 701.20)">siChREBPβ01</text>
<line x1="126.00" y1="694.60" x2="132.50" y2="694.60" stroke="#000" stroke-width="0.8"/>
<rect x="132.50" y="659.25" width="8.75" height="36.00" fill="#000"/>
<line x1="136.50" y1="659.25" x2="136.50" y2="658.00" stroke="#000" stroke-width="1.15"/>
<line x1="133.80" y1="658.00" x2="139.20" y2="658.00" stroke="#000" stroke-width="1.15"/>
<text x="136.88" y="653.18" font-size="8.7" font-weight="bold" text-anchor="middle" class="st">*</text>
<text x="136.70" y="701.20" font-size="7.25" font-weight="bold" text-anchor="end" class="rl" transform="rotate(-47.5 136.70 701.20)">siChREBPβ02</text>
<line x1="86.00" y1="742.20" x2="138.75" y2="742.20" stroke="#000" stroke-width="1.9"/>
<text x="113.12" y="751.60" font-size="8.8" font-weight="bold" text-anchor="middle" textLength="41.25" lengthAdjust="spacingAndGlyphs">ChREBPβ</text>
<rect x="153.00" y="675.25" width="7.50" height="20.00" fill="#fff" stroke="#000" stroke-width="1"/>
<line x1="156.50" y1="675.25" x2="156.50" y2="671.25" stroke="#000" stroke-width="1.15"/>
<line x1="154.30" y1="671.25" x2="158.70" y2="671.25" stroke="#000" stroke-width="1.15"/>
<rect x="160.50" y="595.00" width="8.75" height="100.25" fill="#000"/>
<text x="160.00" y="701.20" font-size="7.25" font-weight="bold" text-anchor="end" class="rl" transform="rotate(-47.5 160.00 701.20)">siCon</text>
<rect x="169.75" y="675.75" width="6.50" height="19.50" fill="#fff" stroke="#000" stroke-width="1"/>
<line x1="172.50" y1="675.75" x2="172.50" y2="675.25" stroke="#000" stroke-width="1.15"/>
<line x1="170.30" y1="675.25" x2="174.70" y2="675.25" stroke="#000" stroke-width="1.15"/>
<rect x="176.25" y="653.75" width="8.75" height="41.50" fill="#000"/>
<line x1="180.50" y1="653.75" x2="180.50" y2="636.75" stroke="#000" stroke-width="1.15"/>
<line x1="177.80" y1="636.75" x2="183.20" y2="636.75" stroke="#000" stroke-width="1.15"/>
<text x="180.62" y="634.18" font-size="8.7" font-weight="bold" text-anchor="middle" class="st">*</text>
<text x="178.45" y="701.20" font-size="7.25" font-weight="bold" text-anchor="end" class="rl" transform="rotate(-47.5 178.45 701.20)">siChREBPβ01</text>
<rect x="185.50" y="678.50" width="6.50" height="16.75" fill="#fff" stroke="#000" stroke-width="1"/>
<line x1="188.50" y1="678.50" x2="188.50" y2="675.75" stroke="#000" stroke-width="1.15"/>
<line x1="186.30" y1="675.75" x2="190.70" y2="675.75" stroke="#000" stroke-width="1.15"/>
<rect x="192.00" y="656.25" width="8.75" height="39.00" fill="#000"/>
<line x1="196.50" y1="656.25" x2="196.50" y2="648.50" stroke="#000" stroke-width="1.15"/>
<line x1="193.80" y1="648.50" x2="199.20" y2="648.50" stroke="#000" stroke-width="1.15"/>
<text x="196.38" y="645.43" font-size="8.7" font-weight="bold" text-anchor="middle" class="st">*</text>
<text x="195.40" y="701.20" font-size="7.25" font-weight="bold" text-anchor="end" class="rl" transform="rotate(-47.5 195.40 701.20)">siChREBPβ02</text>
<line x1="146.25" y1="742.20" x2="197.50" y2="742.20" stroke="#000" stroke-width="1.9"/>
<text x="170.88" y="751.60" font-size="8.8" font-weight="bold" text-anchor="middle" textLength="25.75" lengthAdjust="spacingAndGlyphs">GDPH</text>
<rect x="213.00" y="675.25" width="7.00" height="20.00" fill="#fff" stroke="#000" stroke-width="1"/>
<line x1="216.50" y1="675.25" x2="216.50" y2="672.75" stroke="#000" stroke-width="1.15"/>
<line x1="214.30" y1="672.75" x2="218.70" y2="672.75" stroke="#000" stroke-width="1.15"/>
<rect x="220.00" y="595.00" width="8.75" height="100.25" fill="#000"/>
<text x="219.30" y="701.20" font-size="7.25" font-weight="bold" text-anchor="end" class="rl" transform="rotate(-47.5 219.30 701.20)">siCon</text>
<rect x="229.25" y="679.50" width="6.50" height="15.75" fill="#fff" stroke="#000" stroke-width="1"/>
<line x1="232.50" y1="679.50" x2="232.50" y2="677.00" stroke="#000" stroke-width="1.15"/>
<line x1="230.30" y1="677.00" x2="234.70" y2="677.00" stroke="#000" stroke-width="1.15"/>
<rect x="235.75" y="652.50" width="8.75" height="42.75" fill="#000"/>
<line x1="240.50" y1="652.50" x2="240.50" y2="632.50" stroke="#000" stroke-width="1.15"/>
<line x1="237.80" y1="632.50" x2="243.20" y2="632.50" stroke="#000" stroke-width="1.15"/>
<text x="240.12" y="629.68" font-size="8.7" font-weight="bold" text-anchor="middle" class="st">*</text>
<text x="237.75" y="701.20" font-size="7.25" font-weight="bold" text-anchor="end" class="rl" transform="rotate(-47.5 237.75 701.20)">siChREBPβ01</text>
<rect x="245.00" y="681.00" width="6.75" height="14.25" fill="#fff" stroke="#000" stroke-width="1"/>
<line x1="248.50" y1="681.00" x2="248.50" y2="680.80" stroke="#000" stroke-width="1.15"/>
<line x1="246.30" y1="680.80" x2="250.70" y2="680.80" stroke="#000" stroke-width="1.15"/>
<rect x="251.75" y="659.50" width="8.75" height="35.75" fill="#000"/>
<line x1="256.50" y1="659.50" x2="256.50" y2="649.75" stroke="#000" stroke-width="1.15"/>
<line x1="253.80" y1="649.75" x2="259.20" y2="649.75" stroke="#000" stroke-width="1.15"/>
<text x="256.12" y="646.68" font-size="8.7" font-weight="bold" text-anchor="middle" class="st">*</text>
<text x="254.95" y="701.20" font-size="7.25" font-weight="bold" text-anchor="end" class="rl" transform="rotate(-47.5 254.95 701.20)">siChREBPβ02</text>
<line x1="203.25" y1="742.20" x2="255.00" y2="742.20" stroke="#000" stroke-width="1.9"/>
<text x="229.25" y="751.60" font-size="8.8" font-weight="bold" text-anchor="middle" textLength="25.50" lengthAdjust="spacingAndGlyphs">Hbegf</text>
<rect x="271.75" y="682.75" width="8.25" height="12.50" fill="#fff" stroke="#000" stroke-width="1"/>
<line x1="275.50" y1="682.75" x2="275.50" y2="680.00" stroke="#000" stroke-width="1.15"/>
<line x1="273.30" y1="680.00" x2="277.70" y2="680.00" stroke="#000" stroke-width="1.15"/>
<rect x="280.00" y="595.00" width="8.75" height="100.25" fill="#000"/>
<text x="277.60" y="701.20" font-size="7.25" font-weight="bold" text-anchor="end" class="rl" transform="rotate(-47.5 277.60 701.20)">siCon</text>
<rect x="289.25" y="684.75" width="5.75" height="10.50" fill="#fff" stroke="#000" stroke-width="1"/>
<line x1="292.50" y1="684.75" x2="292.50" y2="683.75" stroke="#000" stroke-width="1.15"/>
<line x1="290.30" y1="683.75" x2="294.70" y2="683.75" stroke="#000" stroke-width="1.15"/>
<rect x="295.00" y="627.50" width="8.75" height="67.75" fill="#000"/>
<line x1="299.50" y1="627.50" x2="299.50" y2="619.75" stroke="#000" stroke-width="1.15"/>
<line x1="296.80" y1="619.75" x2="302.20" y2="619.75" stroke="#000" stroke-width="1.15"/>
<text x="299.38" y="616.68" font-size="8.7" font-weight="bold" text-anchor="middle" class="st">*</text>
<text x="295.30" y="701.20" font-size="7.25" font-weight="bold" text-anchor="end" class="rl" transform="rotate(-47.5 295.30 701.20)">siChREBPβ01</text>
<rect x="304.25" y="683.25" width="7.00" height="12.00" fill="#fff" stroke="#000" stroke-width="1"/>
<line x1="307.50" y1="683.25" x2="307.50" y2="681.50" stroke="#000" stroke-width="1.15"/>
<line x1="305.30" y1="681.50" x2="309.70" y2="681.50" stroke="#000" stroke-width="1.15"/>
<rect x="311.25" y="631.75" width="8.75" height="63.50" fill="#000"/>
<line x1="315.50" y1="631.75" x2="315.50" y2="619.25" stroke="#000" stroke-width="1.15"/>
<line x1="312.80" y1="619.25" x2="318.20" y2="619.25" stroke="#000" stroke-width="1.15"/>
<text x="315.62" y="616.68" font-size="8.7" font-weight="bold" text-anchor="middle" class="st">*</text>
<text x="312.75" y="701.20" font-size="7.25" font-weight="bold" text-anchor="end" class="rl" transform="rotate(-47.5 312.75 701.20)">siChREBPβ02</text>
<line x1="261.25" y1="742.20" x2="312.00" y2="742.20" stroke="#000" stroke-width="1.9"/>
<text x="286.10" y="751.60" font-size="8.8" font-weight="bold" text-anchor="middle" textLength="22.80" lengthAdjust="spacingAndGlyphs">Txnip</text>
<rect x="331.75" y="628.00" width="7.75" height="67.25" fill="#fff" stroke="#000" stroke-width="1"/>
<line x1="335.50" y1="628.00" x2="335.50" y2="620.00" stroke="#000" stroke-width="1.15"/>
<line x1="333.30" y1="620.00" x2="337.70" y2="620.00" stroke="#000" stroke-width="1.15"/>
<rect x="339.50" y="595.00" width="8.75" height="100.25" fill="#000"/>
<text x="336.60" y="701.20" font-size="7.25" font-weight="bold" text-anchor="end" class="rl" transform="rotate(-47.5 336.60 701.20)">siCon</text>
<rect x="348.75" y="640.50" width="6.25" height="54.75" fill="#fff" stroke="#000" stroke-width="1"/>
<line x1="351.50" y1="640.50" x2="351.50" y2="635.00" stroke="#000" stroke-width="1.15"/>
<line x1="349.30" y1="635.00" x2="353.70" y2="635.00" stroke="#000" stroke-width="1.15"/>
<rect x="355.00" y="641.75" width="8.75" height="53.50" fill="#000"/>
<line x1="359.50" y1="641.75" x2="359.50" y2="635.00" stroke="#000" stroke-width="1.15"/>
<line x1="356.80" y1="635.00" x2="362.20" y2="635.00" stroke="#000" stroke-width="1.15"/>
<text x="359.38" y="630.43" font-size="8.7" font-weight="bold" text-anchor="middle" class="st">*</text>
<text x="354.80" y="701.20" font-size="7.25" font-weight="bold" text-anchor="end" class="rl" transform="rotate(-47.5 354.80 701.20)">siChREBPβ01</text>
<rect x="364.25" y="643.00" width="7.00" height="52.25" fill="#fff" stroke="#000" stroke-width="1"/>
<line x1="367.50" y1="643.00" x2="367.50" y2="628.00" stroke="#000" stroke-width="1.15"/>
<line x1="365.30" y1="628.00" x2="369.70" y2="628.00" stroke="#000" stroke-width="1.15"/>
<rect x="371.25" y="640.00" width="8.75" height="55.25" fill="#000"/>
<line x1="375.50" y1="640.00" x2="375.50" y2="633.75" stroke="#000" stroke-width="1.15"/>
<line x1="372.80" y1="633.75" x2="378.20" y2="633.75" stroke="#000" stroke-width="1.15"/>
<text x="375.62" y="630.43" font-size="8.7" font-weight="bold" text-anchor="middle" class="st">*</text>
<text x="372.25" y="701.20" font-size="7.25" font-weight="bold" text-anchor="end" class="rl" transform="rotate(-47.5 372.25 701.20)">siChREBPβ02</text>
<line x1="321.25" y1="742.20" x2="373.75" y2="742.20" stroke="#000" stroke-width="1.9"/>
<text x="347.00" y="751.60" font-size="8.8" font-weight="bold" text-anchor="middle" textLength="17.60" lengthAdjust="spacingAndGlyphs">Pklr</text>
<rect x="391.25" y="577.50" width="8.00" height="117.75" fill="#fff" stroke="#000" stroke-width="1"/>
<line x1="395.50" y1="577.50" x2="395.50" y2="567.50" stroke="#000" stroke-width="1.15"/>
<line x1="393.30" y1="567.50" x2="397.70" y2="567.50" stroke="#000" stroke-width="1.15"/>
<rect x="399.25" y="595.00" width="8.25" height="100.25" fill="#000"/>
<text x="398.95" y="701.20" font-size="7.25" font-weight="bold" text-anchor="end" class="rl" transform="rotate(-47.5 398.95 701.20)">siCon</text>
<rect x="408.00" y="592.50" width="7.00" height="102.75" fill="#fff" stroke="#000" stroke-width="1"/>
<line x1="411.50" y1="592.50" x2="411.50" y2="586.00" stroke="#000" stroke-width="1.15"/>
<line x1="409.30" y1="586.00" x2="413.70" y2="586.00" stroke="#000" stroke-width="1.15"/>
<rect x="415.00" y="607.50" width="8.25" height="87.75" fill="#000"/>
<line x1="419.50" y1="607.50" x2="419.50" y2="600.00" stroke="#000" stroke-width="1.15"/>
<line x1="416.80" y1="600.00" x2="422.20" y2="600.00" stroke="#000" stroke-width="1.15"/>
<text x="417.40" y="701.20" font-size="7.25" font-weight="bold" text-anchor="end" class="rl" transform="rotate(-47.5 417.40 701.20)">siChREBPβ01</text>
<rect x="423.75" y="591.75" width="7.00" height="103.50" fill="#fff" stroke="#000" stroke-width="1"/>
<line x1="427.50" y1="591.75" x2="427.50" y2="580.00" stroke="#000" stroke-width="1.15"/>
<line x1="425.30" y1="580.00" x2="429.70" y2="580.00" stroke="#000" stroke-width="1.15"/>
<rect x="430.75" y="603.00" width="8.50" height="92.25" fill="#000"/>
<line x1="435.50" y1="603.00" x2="435.50" y2="597.25" stroke="#000" stroke-width="1.15"/>
<line x1="432.80" y1="597.25" x2="438.20" y2="597.25" stroke="#000" stroke-width="1.15"/>
<text x="434.35" y="701.20" font-size="7.25" font-weight="bold" text-anchor="end" class="rl" transform="rotate(-47.5 434.35 701.20)">siChREBPβ02</text>
<line x1="383.75" y1="742.20" x2="436.60" y2="742.20" stroke="#000" stroke-width="1.9"/>
<text x="410.30" y="751.60" font-size="8.8" font-weight="bold" text-anchor="middle" textLength="40.60" lengthAdjust="spacingAndGlyphs">ChREBPα</text>
<rect x="235.70" y="561.20" width="8.50" height="8.30" fill="#fff" stroke="#000" stroke-width="1"/>
<rect x="235.20" y="573.50" width="9.50" height="8.80" fill="#000"/>
<text x="247.30" y="568.50" font-size="9" textLength="52.20" lengthAdjust="spacingAndGlyphs">5 mM Glucose</text>
<text x="247.30" y="580.80" font-size="9" textLength="55.80" lengthAdjust="spacingAndGlyphs">15 mM Glucose</text>
</g>
</svg></body></html>
